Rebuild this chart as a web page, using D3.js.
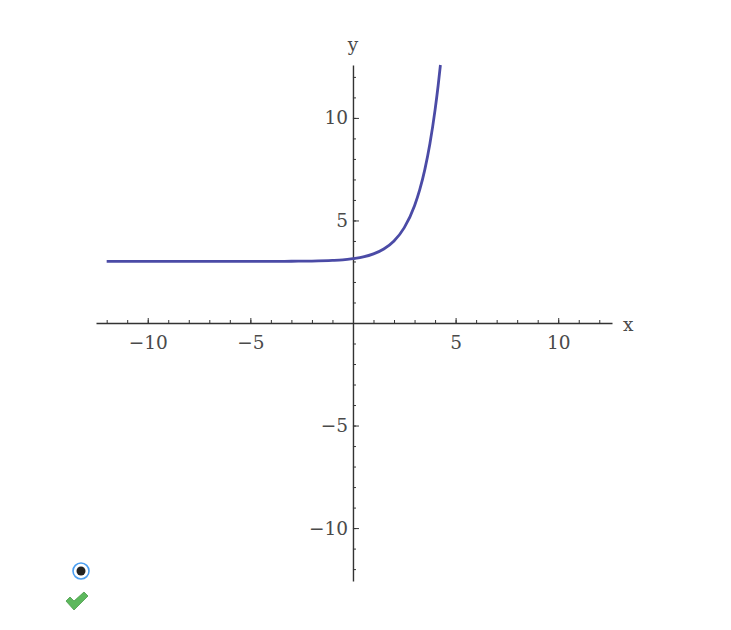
<!DOCTYPE html>
<html lang="en">
<head>
    <meta charset="UTF-8">
    <title>y plot</title>
    <script src="https://d3js.org/d3.v7.min.js"></script>
    <style>
        body { margin: 0; background: #fff; }
        .lbl text { font-family: "DejaVu Serif", serif; font-size: 18.5px; fill: #4a4a4a; }
        .axis path, .axis line { stroke: #333; }
    </style>
</head>
<body>
    <div id="chart"></div>

    <script>
        // values
        const majorTicks = [-10, -5, 5, 10];
        const minorTicks = [-12, -11, -10, -9, -8, -7, -6, -5, -4, -3, -2, -1, 1, 2, 3, 4, 5, 6, 7, 8, 9, 10, 11, 12];
        const curveX = [-12, -8, -6, -4, -3, -2, -1, -0.5, 0, 0.5, 1, 1.5, 2, 2.5, 3, 3.25, 3.5, 3.75, 4, 4.15, 4.26];
        const curveY = [3.0, 3.0, 3.0, 3.0, 3.01, 3.02, 3.05, 3.08, 3.14, 3.22, 3.37, 3.61, 4.0, 4.65, 5.72, 6.49, 7.48, 8.75, 10.39, 11.58, 12.58];

        const W = 731, H = 630;

        const svg = d3.select("#chart").append("svg")
            .attr("width", W)
            .attr("height", H);

        const x = d3.scaleLinear().domain([-12.52, 12.62]).range([96, 612]);
        const y = d3.scaleLinear().domain([-12.58, 12.58]).range([581, 65]);

        // x axis: minor ticks, then major ticks with labels
        svg.append("g")
            .attr("class", "axis")
            .attr("transform", `translate(0,${y(0)})`)
            .call(d3.axisBottom(x).tickValues(minorTicks).tickSize(-3).tickSizeOuter(0).tickFormat(""))
            .call(g => g.select(".domain").attr("stroke-width", 1.4));

        svg.append("g")
            .attr("class", "axis lbl")
            .attr("transform", `translate(0,${y(0)})`)
            .call(d3.axisBottom(x).tickValues(majorTicks).tickSize(-5).tickPadding(12.5))
            .call(g => g.select(".domain").remove())
            .call(g => g.selectAll("text").attr("font-family", null).attr("font-size", null));

        // y axis: ticks to the right, labels to the left
        svg.append("g")
            .attr("class", "axis")
            .attr("transform", `translate(${x(0)},0)`)
            .call(d3.axisRight(y).tickValues(minorTicks).tickSize(3).tickSizeOuter(0).tickFormat(""))
            .call(g => g.select(".domain").attr("stroke-width", 1.4));

        svg.append("g")
            .attr("class", "axis")
            .attr("transform", `translate(${x(0)},0)`)
            .call(d3.axisRight(y).tickValues(majorTicks).tickSize(6).tickFormat(""))
            .call(g => g.select(".domain").remove());

        svg.append("g")
            .attr("class", "lbl")
            .attr("transform", `translate(${x(0)},0)`)
            .call(d3.axisLeft(y).tickValues(majorTicks).tickSize(0).tickPadding(5))
            .call(g => g.select(".domain").remove())
            .call(g => g.selectAll("text").attr("font-family", null).attr("font-size", null));

        // axis names
        const names = svg.append("g").attr("class", "lbl");
        names.append("text")
            .attr("x", x(0))
            .attr("y", 51)
            .attr("text-anchor", "middle")
            .text("y");
        names.append("text")
            .attr("x", 623)
            .attr("y", 331)
            .text("x");
        names.append("text")
            .attr("x", -8)
            .attr("y", 341)
            .text("t");

        // the curve
        const pts = curveX.map((d, i) => [d, curveY[i]]);
        svg.append("path")
            .datum(pts)
            .attr("fill", "none")
            .attr("stroke", "#4b4ba6")
            .attr("stroke-width", 2.8)
            .attr("d", d3.line().x(d => x(d[0])).y(d => y(d[1])).curve(d3.curveMonotoneX));

        // radio button and check mark below the plot
        svg.append("circle")
            .attr("cx", 81).attr("cy", 571).attr("r", 8)
            .attr("fill", "#fff").attr("stroke", "#4a9ef2").attr("stroke-width", 1.6);
        svg.append("circle")
            .attr("cx", 81).attr("cy", 571).attr("r", 4.5)
            .attr("fill", "#222");
        svg.append("path")
            .attr("d", "M66,601 L70,597 L74,601 L84,592 L88,596 L74,610 Z")
            .attr("fill", "#5cb85c")
            .attr("stroke", "#4a9a4a")
            .attr("stroke-width", 0.8)
            .attr("stroke-linejoin", "round");
    </script>
</body>
</html>
